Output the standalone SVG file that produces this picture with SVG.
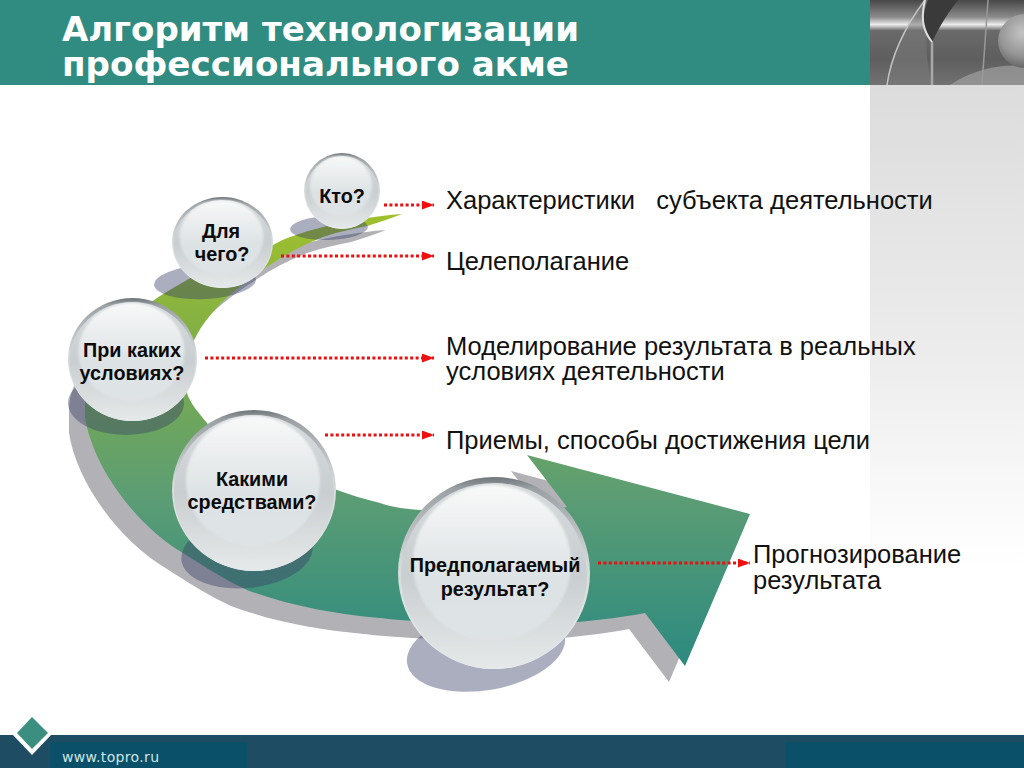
<svg xmlns="http://www.w3.org/2000/svg" width="1024" height="768" viewBox="0 0 1024 768">
<defs>
<linearGradient id="side" x1="0" y1="0" x2="0" y2="1"><stop offset="0" stop-color="#dcdcdc"/><stop offset="0.55" stop-color="#ececec"/><stop offset="1" stop-color="#fff"/></linearGradient>
<linearGradient id="photo" x1="0" y1="0" x2="0" y2="1"><stop offset="0" stop-color="#474747"/><stop offset="0.2" stop-color="#8a8a8a"/><stop offset="0.29" stop-color="#ececec"/><stop offset="0.36" stop-color="#6a6a6a"/><stop offset="0.7" stop-color="#5e5e5e"/><stop offset="1" stop-color="#727272"/></linearGradient>
<radialGradient id="sphere" cx="0.45" cy="0.35" r="0.7"><stop offset="0" stop-color="#c4c4c4"/><stop offset="0.6" stop-color="#959595"/><stop offset="1" stop-color="#5c5c5c"/></radialGradient>
<linearGradient id="arrow" gradientUnits="userSpaceOnUse" x1="0" y1="214" x2="0" y2="666"><stop offset="0" stop-color="#a0c02c"/><stop offset="0.3" stop-color="#7eae48"/><stop offset="0.62" stop-color="#5c9d74"/><stop offset="1" stop-color="#2c8a80"/></linearGradient>
<linearGradient id="rim" x1="0" y1="0" x2="0" y2="1"><stop offset="0" stop-color="#6f777b"/><stop offset="0.06" stop-color="#9aa0a3"/><stop offset="0.45" stop-color="#d4d9da"/><stop offset="1" stop-color="#edf0f0"/></linearGradient>
<linearGradient id="body" x1="0" y1="0" x2="0" y2="1"><stop offset="0" stop-color="#d6dadc"/><stop offset="0.5" stop-color="#c9ced0"/><stop offset="1" stop-color="#e6e9ea"/></linearGradient>
<linearGradient id="face" x1="0" y1="0" x2="0" y2="1"><stop offset="0" stop-color="#f8f9f9"/><stop offset="0.6" stop-color="#dde2e4"/><stop offset="1" stop-color="#dfe3e5"/></linearGradient>
<filter id="soft" x="-10%" y="-10%" width="120%" height="120%"><feGaussianBlur stdDeviation="1.2"/></filter>
<path id="bigarrow" d="M402 214 C375 216 350 220 323 227 C300 233 285 238 273 245 C240 258 210 266 187 280 C175 287 162 294 150 303 C115 328 85 360 85 395 C85 404 85 410 85 417 C92 465 135 525 183 553 C205 567 225 580 247 590 C290 606 335 614 380 618 C420 623 500 626 577 622 C600 620 625 617 645 613 L685 666 L750 514 L527 455 L567 507 C510 514 460 513 422 510 C405 509 392 507 380 503 C365 499 350 495 337 490 C290 470 225 455 207 423 C198 412 190 403 187 393 C178 340 215 300 273 263 C288 253 305 244 323 237 C338 232 352 229 367 226 C380 222 392 218 402 214 Z"/>
<marker id="head" markerWidth="14" markerHeight="11" refX="12" refY="4.500" orient="auto" markerUnits="userSpaceOnUse"><path d="M0 0 L12 4.500 L0 9 Z" fill="#f01010"/></marker>
</defs>
<style>
.title{font-family:"DejaVu Sans",Verdana,sans-serif;font-weight:bold;font-size:33px;fill:#fff}
.label{font-family:"Liberation Sans",Arial,sans-serif;font-weight:bold;font-size:19.8px;fill:#0b0b0b;text-anchor:middle}
.desc{font-family:"Liberation Sans",Arial,sans-serif;font-size:25.5px;fill:#111}
.conn{fill:none;stroke:#e81010;stroke-width:3;stroke-dasharray:3 2.4;marker-end:url(#head)}
.shadow{fill:#373e66;opacity:.42}
</style>
<rect width="1024" height="768" fill="#fff"/>
<rect x="870" y="85" width="154" height="480" fill="url(#side)"/>
<g id="header">
<rect width="870" height="85" fill="#308c80"/>
<rect x="870" width="154" height="85" fill="url(#photo)"/>
<path d="M887 85 C892 50 910 20 925 0 L940 0 C922 25 925 55 932 85 Z" fill="#7a7a7a" opacity=".55"/>
<path d="M887 85 C892 50 910 20 925 0" fill="none" stroke="#c4c4c4" stroke-width="1.5"/>
<path d="M928 0 C920 20 924 32 932 42 C940 25 950 10 958 0 Z" fill="#3a3a3a"/>
<path d="M925 0 C920 20 924 32 932 42" fill="none" stroke="#e0e0e0" stroke-width="2"/>
<path d="M932 85 L932 42" stroke="#a8a8a8" stroke-width="2.500"/>
<path d="M950 85 C975 68 1005 64 1024 66 L1024 85 Z" fill="#a0a0a0" opacity=".7"/>
<path d="M988 0 L982 85" stroke="#999" stroke-width="1.500"/>
<circle cx="1025" cy="41" r="27" fill="url(#sphere)"/>
<text class="title" x="62" y="41" textLength="517" lengthAdjust="spacingAndGlyphs">Алгоритм технологизации</text>
<text class="title" x="62" y="76" textLength="507" lengthAdjust="spacingAndGlyphs">профессионального акме</text>
</g>
<g id="footer">
<rect y="735" width="1024" height="33" fill="#1e4d63"/>
<rect x="50" y="742" width="197" height="26" fill="#0a5068"/>
<rect x="785" y="742" width="239" height="26" fill="#0a5068"/>
<path d="M32 713 L52 734 L32 755 L12 734 Z" fill="#fff"/>
<path d="M32 717 L48 733 L32 749 L17 733 Z" fill="#3a8f80"/>
<text x="62" y="762" font-family="'DejaVu Sans',Verdana,sans-serif" font-size="14" fill="#cfe6e8" textLength="97">www.topro.ru</text>
</g>
<g id="curved-arrow">
<use href="#bigarrow" transform="translate(-16 16)" fill="#b2b2b6"/>
<use href="#bigarrow" fill="url(#arrow)"/>
</g>
<g id="connectors">
<path class="conn" d="M384 205 H434"/>
<path class="conn" d="M281 256 H434"/>
<path class="conn" d="M205 358 H434"/>
<path class="conn" d="M325 435 H434"/>
<path class="conn" d="M598 563 H750"/>
</g>
<g id="node-who">
<ellipse cx="329" cy="228" rx="39" ry="12" class="shadow" transform="rotate(-2 329 228)"/>
<circle cx="342" cy="191" r="38" fill="url(#rim)"/>
<circle cx="342" cy="192.500" r="36.500" fill="url(#body)"/>
<ellipse cx="341" cy="186" rx="31" ry="30" fill="url(#face)" filter="url(#soft)"/>
<text class="label" x="342" y="203">Кто?</text>
</g>
<g id="node-why">
<ellipse cx="205" cy="282" rx="51" ry="17" class="shadow" transform="rotate(-3 205 282)"/>
<ellipse cx="222.500" cy="242.500" rx="50.500" ry="45.500" fill="url(#rim)"/>
<ellipse cx="222.500" cy="244" rx="49" ry="44" fill="url(#body)"/>
<ellipse cx="221.500" cy="237" rx="42" ry="37" fill="url(#face)" filter="url(#soft)"/>
<text class="label" x="221" y="238">Для</text>
<text class="label" x="222" y="261">чего?</text>
</g>
<g id="node-conditions">
<ellipse cx="126" cy="403" rx="58" ry="32" class="shadow"/>
<ellipse cx="132.500" cy="359.500" rx="64.500" ry="61.500" fill="url(#rim)"/>
<ellipse cx="132.500" cy="361.500" rx="63" ry="59.500" fill="url(#body)"/>
<ellipse cx="131.500" cy="352" rx="53" ry="49" fill="url(#face)" filter="url(#soft)"/>
<text class="label" x="132" y="357">При каких</text>
<text class="label" x="132" y="380">условиях?</text>
</g>
<g id="node-means">
<ellipse cx="247" cy="553" rx="66" ry="35" class="shadow" transform="rotate(-6 247 553)"/>
<ellipse cx="254" cy="490.500" rx="82" ry="80.500" fill="url(#rim)"/>
<ellipse cx="254" cy="493" rx="80" ry="78" fill="url(#body)"/>
<ellipse cx="253" cy="481" rx="67" ry="65" fill="url(#face)" filter="url(#soft)"/>
<text class="label" x="252" y="486">Какими</text>
<text class="label" x="252" y="509">средствами?</text>
</g>
<g id="node-result">
<ellipse cx="486" cy="650" rx="80" ry="40" class="shadow" transform="rotate(-10 486 650)"/>
<circle cx="494" cy="573" r="96" fill="url(#rim)"/>
<circle cx="494" cy="576" r="93" fill="url(#body)"/>
<ellipse cx="492" cy="563" rx="79" ry="78" fill="url(#face)" filter="url(#soft)"/>
<text class="label" x="495" y="572">Предполагаемый</text>
<text class="label" x="495" y="596">результат?</text>
</g>
<g id="labels">
<text class="desc" x="446" y="209" xml:space="preserve">Характеристики   субъекта деятельности</text>
<text class="desc" x="446" y="270">Целеполагание</text>
<text class="desc" x="446" y="355">Моделирование результата в реальных</text>
<text class="desc" x="446" y="380">условиях деятельности</text>
<text class="desc" x="446" y="449">Приемы, способы достижения цели</text>
<text class="desc" x="753" y="563">Прогнозирование</text>
<text class="desc" x="753" y="589">результата</text>
</g>
</svg>
